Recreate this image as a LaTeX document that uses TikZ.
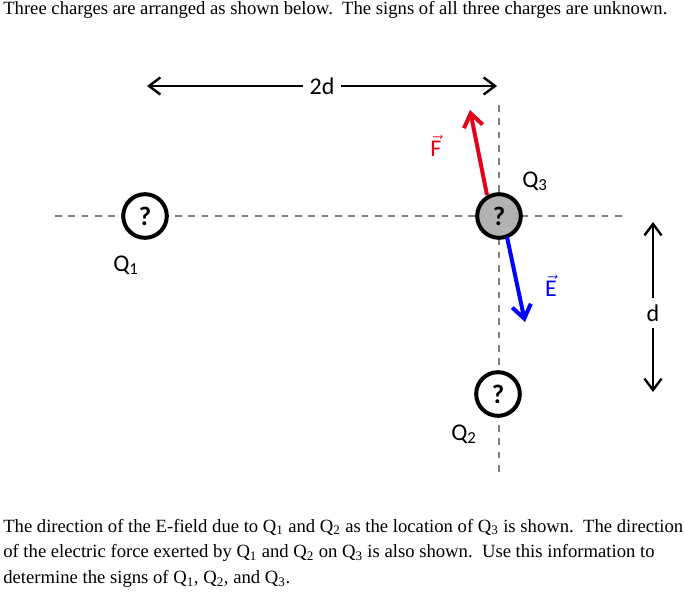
\documentclass[tikz,border=0pt]{standalone}
\usepackage{fontspec}
\setmainfont{Liberation Serif}
\newfontfamily\labelfont{Carlito}
\usetikzlibrary{arrows.meta}
\newcommand{\sfvec}[1]{$\vec{\hbox{\labelfont #1}}$}
\tikzset{%
  charge/.style  = {circle, draw=black, line width=3pt, fill=white,%
                    minimum size=11.5mm, inner sep=0pt,%
                    font=\labelfont\bfseries\fontsize{20}{20}\selectfont},%
  lbl/.style     = {font=\labelfont\fontsize{18}{18}\selectfont},%
  guide/.style   = {draw=gray, line width=1.1pt, dash pattern=on 5pt off 5pt},%
  span/.style    = {line width=1.8pt, {Straight Barb[length=3mm,width=4.5mm]}-{Straight Barb[length=3mm,width=4.5mm]}},%
  vec/.style     = {line width=3pt, -{Straight Barb[length=3.5mm,width=5mm]}},%
  para/.style    = {anchor=west, font=\fontsize{14}{16}\selectfont, inner sep=0pt}%
}
\begin{document}
\begin{tikzpicture}[x=0.75pt,y=-0.75pt]
	\useasboundingbox (0,0) rectangle (685,595);
	\node [para] (top) at (3,10) {Three charges are arranged as shown below.\ \ The signs of all three charges are unknown.};
	% guide lines
	\coordinate (hl) at (55,216);
	\coordinate (hr) at (622,216);
	\coordinate (vt) at (499,105);
	\coordinate (vb) at (499,478);
	\draw [guide] (hl) -- (hr);
	\draw [guide] (vt) -- (vb);
	% charges
	\node [charge] (q1) at (145,216) {?};
	\node [charge, fill=gray!60] (q3) at (499,216) {?};
	\node [charge] (q2) at (498,394) {?};
	\node [lbl] (q1l) at (126,265) {Q\textsubscript{1}};
	\node [lbl] (q3l) at (535,181) {Q\textsubscript{3}};
	\node [lbl] (q2l) at (464,434) {Q\textsubscript{2}};
	% force and field
	\coordinate (ftip) at (470,110);
	\coordinate (etip) at (525,322);
	\draw [vec, draw=red!90!blue] (q3) ++(-12,-21) -- (ftip);
	\draw [vec, draw=blue] (q3) ++(8,21) -- (etip);
	\node [lbl, text=red!90!blue] (fl) at (436,146) {\sfvec{F}};
	\node [lbl, text=blue] (el) at (551,286) {\sfvec{E}};
	% distances
	\coordinate (wl) at (147,86);
	\coordinate (wr) at (497,86);
	\draw [span] (wl) -- (wr);
	\node [lbl, fill=white, inner sep=5pt] (twod) at (322,86) {2d};
	\coordinate (dt) at (653,222);
	\coordinate (db) at (653,392);
	\draw [span] (dt) -- (db);
	\node [lbl, fill=white, inner sep=5pt] (dl) at (653,313) {d};
	% text below
	\node [para] (b1) at (3,527) {The direction of the E-field due to Q\textsubscript{1} and Q\textsubscript{2} as the location of Q\textsubscript{3} is shown.\ \ The direction};
	\node [para] (b2) at (3,553) {of the electric force exerted by Q\textsubscript{1} and Q\textsubscript{2} on Q\textsubscript{3} is also shown.\ \ Use this information to};
	\node [para] (b3) at (3,579) {determine the signs of Q\textsubscript{1}, Q\textsubscript{2}, and Q\textsubscript{3}.};
\end{tikzpicture}
\end{document}
